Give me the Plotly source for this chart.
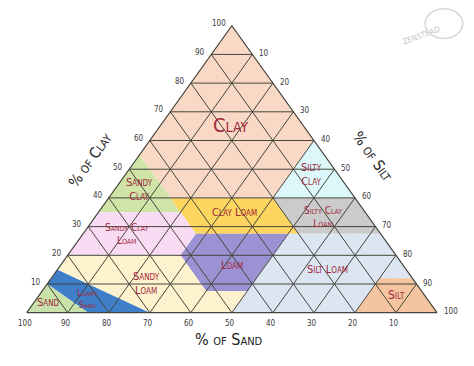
import plotly.graph_objects as go

# ---------------- data ----------------
# soil texture classes, vertices given as (% clay, % silt); sand = 100 - clay - silt
region_names = ["Clay", "Sandy Clay", "Clay Loam", "Silty Clay", "Silty Clay Loam",
                "Sandy Clay Loam", "Loam", "Silt Loam", "Silt", "Sandy Loam",
                "Loamy Sand", "Sand"]
region_clay = [
    [100, 55, 40, 40, 60],
    [55, 35, 35],
    [40, 27.5, 27.5, 40],
    [60, 40, 40],
    [40, 27.5, 27.5, 40],
    [35, 20, 20, 27.5, 35],
    [27.5, 20, 7.5, 7.5, 27.5],
    [27.5, 7.5, 0, 0, 12, 12, 27.5],
    [0, 0, 12, 12],
    [20, 15, 0, 0, 7.5, 7.5, 20],
    [15, 10, 0, 0],
    [10, 0, 0],
]
region_silt = [
    [0, 0, 15, 40, 40],
    [0, 0, 20],
    [15, 27.5, 52.5, 40],
    [40, 40, 60],
    [40, 52.5, 72.5, 60],
    [0, 0, 27.5, 27.5, 20],
    [27.5, 27.5, 40, 50, 50],
    [50, 50, 50, 80, 80, 88, 72.5],
    [80, 100, 88, 80],
    [0, 0, 30, 50, 50, 40, 27.5],
    [0, 0, 15, 30],
    [0, 0, 15],
]
region_colors = ["#F9D9C6", "#CFE4A6", "#FDD55F", "#DDF8FA", "#CBCBCB",
                 "#F9DCF4", "#9B92D4", "#DCE6F2", "#F4C5A0", "#FFF2CE",
                 "#3F7FC9", "#C9E2AC"]
# label anchor for each class, as (% clay, % silt)
label_text = ["Clay", "Sandy<br>Clay", "Clay Loam", "Silty<br>Clay", "Silty Clay<br>Loam",
              "Sandy Clay<br>Loam", "Loam", "Silt Loam", "Silt", "Sandy<br>Loam",
              "Loamy<br>Sand", "Sand"]
label_clay = [65.4, 42.8, 35.0, 48.0, 33.3, 27.4, 16.6, 15.2, 6.2, 10.3, 4.8, 3.4]
label_silt = [16.9, 6.0, 33.2, 45.5, 55.5, 10.7, 41.7, 65.6, 87.1, 24.0, 12.5, 3.5]
label_sizes = [20, 11, 11, 11, 10, 10, 11, 11, 12, 11, 9, 11]

grid_ticks = [10, 20, 30, 40, 50, 60, 70, 80, 90]
clay_tick_labels = [10, 20, 30, 40, 50, 60, 70, 80, 90, 100]
silt_tick_labels = [10, 20, 30, 40, 50, 60, 70, 80, 90, 100]
sand_tick_labels = [100, 90, 80, 70, 60, 50, 40, 30, 20, 10]


def tern(clay, silt):
    """ternary (clay, silt) -> cartesian plot coords"""
    return silt + clay / 2.0, clay


FONT = "Liberation Sans Narrow, DejaVu Sans Condensed, Roboto Condensed, Roboto, Liberation Sans, sans-serif"
TEXT_RED = "#A0283A"
GRID = "#45453D"

fig = go.Figure()

# regions
for name, cl, si, col in zip(region_names, region_clay, region_silt, region_colors):
    xs, ys = [], []
    for c, s in zip(cl, si):
        x, y = tern(c, s)
        xs.append(x)
        ys.append(y)
    xs.append(xs[0]); ys.append(ys[0])
    fig.add_trace(go.Scatter(x=xs, y=ys, mode="lines", fill="toself", fillcolor=col,
                             line=dict(width=0, color=col), name=name, hoverinfo="name"))

# grid lines
gx, gy = [], []
for t in grid_ticks:
    for (c1, s1), (c2, s2) in [((t, 0), (t, 100 - t)),
                               ((0, t), (100 - t, t)),
                               ((0, 100 - t), (100 - t, 0))]:
        x1, y1 = tern(c1, s1)
        x2, y2 = tern(c2, s2)
        gx += [x1, x2, None]
        gy += [y1, y2, None]
fig.add_trace(go.Scatter(x=gx, y=gy, mode="lines", line=dict(color=GRID, width=1),
                         hoverinfo="skip"))

# outline
ox, oy = [], []
for c, s in [(0, 0), (0, 100), (100, 0), (0, 0)]:
    x, y = tern(c, s)
    ox.append(x); oy.append(y)
fig.add_trace(go.Scatter(x=ox, y=oy, mode="lines", line=dict(color=GRID, width=1.2),
                         hoverinfo="skip"))

annotations = []
tick_font = dict(family=FONT, size=8, color="#3A3A3A")
for t in clay_tick_labels:
    x, y = tern(t, 0)
    annotations.append(dict(x=x, y=y, text=str(t), showarrow=False, xanchor="right",
                            yanchor="middle", xshift=-4, yshift=2, font=tick_font))
for t in silt_tick_labels:
    x, y = tern(100 - t, t)
    annotations.append(dict(x=x, y=y, text=str(t), showarrow=False, xanchor="left",
                            yanchor="middle", xshift=5, yshift=1, font=tick_font))
for t in sand_tick_labels:
    x, y = tern(0, 100 - t)
    annotations.append(dict(x=x, y=y, text=str(t), showarrow=False, xanchor="center",
                            yanchor="top", yshift=-4, xshift=-2, font=tick_font))

# class labels
for txt, c, s, sz in zip(label_text, label_clay, label_silt, label_sizes):
    x, y = tern(c, s)
    annotations.append(dict(x=x, y=y, text=txt, showarrow=False,
                            font=dict(family=FONT, size=sz, color=TEXT_RED, variant="small-caps")))

# axis titles
title_font = dict(family=FONT, size=15, color="#222222", variant="small-caps")
annotations.append(dict(x=15.5, y=53.2, text="% of Clay", showarrow=False, textangle=-54.5,
                        font=title_font))
annotations.append(dict(x=84.4, y=54.3, text="% of Silt", showarrow=False, textangle=54.5,
                        font=title_font))
annotations.append(dict(x=49.3, y=-9.5, text="% of Sand", showarrow=False,
                        font=dict(family=FONT, size=16, color="#222222", variant="small-caps")))

# faint watermark stamp
annotations.append(dict(xref="paper", yref="paper", x=0.936, y=0.96, text="ZENSTEAD",
                        showarrow=False, textangle=-20,
                        font=dict(family=FONT, size=8, color="#C4C4C4")))

fig.update_layout(
    width=466, height=358,
    margin=dict(l=0, r=0, t=0, b=0),
    paper_bgcolor="white", plot_bgcolor="white",
    showlegend=False,
    xaxis=dict(range=[-4.558, 109.02], visible=False, fixedrange=True),
    yaxis=dict(range=[-18.57, 106.17], visible=False, fixedrange=True),
    annotations=annotations,
    shapes=[dict(type="circle", xref="paper", yref="paper", x0=0.895, x1=0.976, y0=0.915, y1=0.998,
                 line=dict(color="#D8D8D8", width=1.5))],
)

fig.write_html("out.html")
